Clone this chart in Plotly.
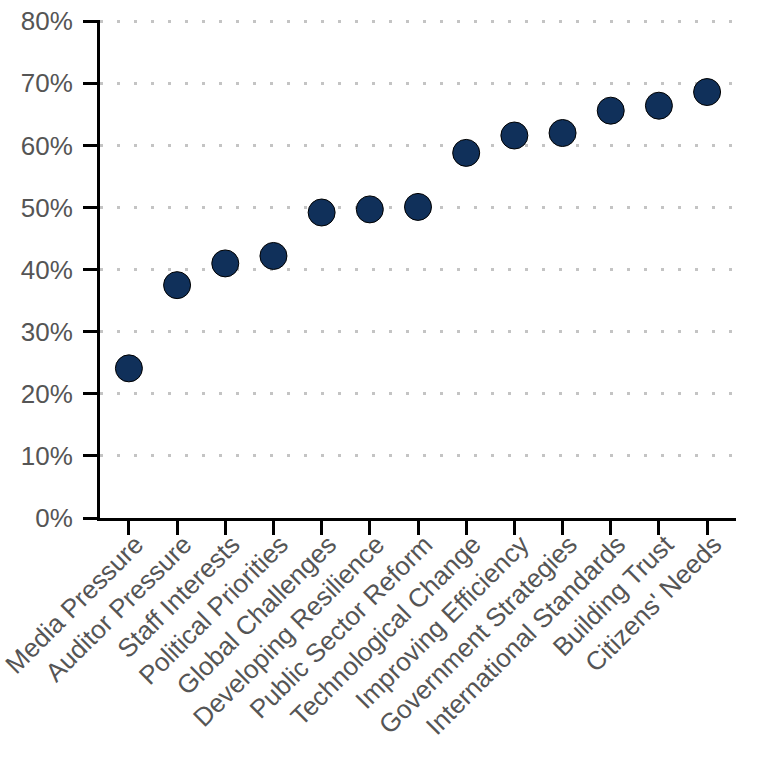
import plotly.graph_objects as go

categories = ["Media Pressure", "Auditor Pressure", "Staff Interests", "Political Priorities",
              "Global Challenges", "Developing Resilience", "Public Sector Reform",
              "Technological Change", "Improving Efficiency", "Government Strategies",
              "International Standards", "Building Trust", "Citizens' Needs"]
values = [24.1, 37.5, 41.0, 42.2, 49.2, 49.7, 50.1, 58.8, 61.6, 62.0, 65.6, 66.4, 68.6]
y_ticks = [0, 10, 20, 30, 40, 50, 60, 70, 80]
y_labels = [f"{v}%" for v in y_ticks]

fig = go.Figure(go.Scatter(
    x=categories, y=values, mode="markers",
    marker=dict(size=27, color="#10305a", line=dict(color="#000000", width=1)),
))

xfont = dict(family="Liberation Sans, Arial, sans-serif", size=26, color="#555555")
yfont = dict(family="Liberation Sans, Arial, sans-serif", size=26, color="#555555")
fig.update_layout(
    width=768, height=768,
    margin=dict(l=100, r=32, t=20, b=250, autoexpand=False),
    plot_bgcolor="white", paper_bgcolor="white",
    showlegend=False,
)
fig.update_xaxes(
    type="category", range=[-0.6, 12.6], automargin=False,
    showline=True, linecolor="black", linewidth=3,
    ticks="outside", ticklen=14, tickwidth=3, tickcolor="black",
    tickangle=-45, showgrid=False, tickfont=xfont, zeroline=False,
    ticklabelstandoff=-16, ticklabelshift=7, ticklabeloverflow="allow",
)
fig.update_yaxes(
    range=[0, 80.2], tickvals=y_ticks, ticktext=y_labels, automargin=False,
    showline=True, linecolor="black", linewidth=3,
    ticks="outside", ticklen=14, tickwidth=3, tickcolor="black",
    showgrid=True, gridcolor="#c4c4c4", gridwidth=3, griddash="3px,14px",
    zeroline=False, tickfont=yfont, ticklabelstandoff=5, ticklabeloverflow="allow",
)
fig.write_html("out.html", config={"displayModeBar": False},
               post_script="document.body.style.margin='0';")
